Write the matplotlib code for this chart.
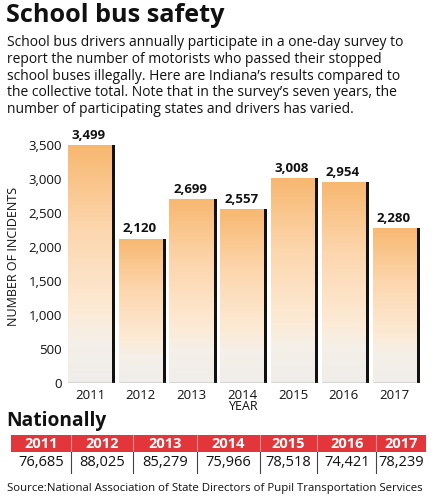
import matplotlib
matplotlib.use("Agg")
import matplotlib.pyplot as plt
import numpy as np
from matplotlib.colors import LinearSegmentedColormap
from matplotlib.patches import Rectangle

plt.rcParams['font.family'] = ['Open Sans', 'DejaVu Sans']

# ---- data ----
years = ["2011", "2012", "2013", "2014", "2015", "2016", "2017"]
indiana = [3499, 2120, 2699, 2557, 3008, 2954, 2280]
national = [76685, 88025, 85279, 75966, 78518, 74421, 78239]
yticks = [0, 500, 1000, 1500, 2000, 2500, 3000, 3500]

title = "School bus safety"
subtitle = ("School bus drivers annually participate in a one-day survey to\n"
            "report the number of motorists who passed their stopped\n"
            "school buses illegally. Here are Indiana\u2019s results compared to\n"
            "the collective total. Note that in the survey\u2019s seven years, the\n"
            "number of participating states and drivers has varied.")
source = "Source:National Association of State Directors of Pupil Transportation Services"

W, H = 433, 500
fig = plt.figure(figsize=(W / 100, H / 100), dpi=100)
fig.patch.set_facecolor("white")

def fx(px):
    return px / W

def fy(py):
    return 1 - py / H

# ---- headings ----
fig.text(fx(6), fy(3), title, fontsize=18.2, fontweight="bold", va="top", ha="left", color="#111111")
fig.text(fx(7), fy(35), subtitle, fontsize=10.0, va="top", ha="left", color="#111111", linespacing=1.16)

# ---- bar chart ----
ax = fig.add_axes([fx(66), fy(383), fx(422) - fx(66), fy(130) - fy(383)])
ax.set_xlim(-0.473, 6.54)
ax.set_ylim(0, 3720)
for s in ax.spines.values():
    s.set_visible(False)

cmap = LinearSegmentedColormap.from_list(
    "busgrad",
    [(0.0, (0.94, 0.93, 0.92)),
     (0.18, (0.96, 0.94, 0.91)),
     (0.30, (0.99, 0.92, 0.84)),
     (0.65, (0.99, 0.84, 0.68)),
     (1.0, (0.97, 0.72, 0.44))])
grad = np.linspace(0, 1, 256).reshape(-1, 1)

x = np.arange(len(years))
bw = 0.87
sw = 0.06
bars = ax.bar(x, indiana, width=bw, color="none", edgecolor="none")
for xi, v, b in zip(x, indiana, bars):
    im = ax.imshow(grad, cmap=cmap, origin="lower", aspect="auto",
                   extent=[xi - bw / 2, xi + bw / 2, 0, v], zorder=2)
    im.set_clip_path(b)
    ax.bar(xi + bw / 2 + sw / 2, v, width=sw, color="#111111", zorder=3)
    ax.hlines(0, xi - bw / 2, xi + bw / 2 + sw, color="#777777", lw=1, zorder=3)
    ax.text(xi - 0.02, v + 50, f"{v:,}", ha="center", va="bottom",
            fontsize=9.5, fontweight="bold", color="#111111")

ax.set_xlim(-0.473, 6.54)
ax.set_ylim(0, 3720)
ax.set_xticks(x)
ax.set_xticklabels(years, fontsize=9.5, color="#111111")
ax.set_yticks(yticks)
ax.set_yticklabels([f"{t:,}" for t in yticks], fontsize=9.5, color="#111111")
ax.tick_params(length=0, pad=3)
ax.tick_params(axis="x", pad=4)
ax.set_xlabel("YEAR", fontsize=9, labelpad=-1, color="#111111")
ax.set_ylabel("NUMBER OF INCIDENTS", fontsize=9, labelpad=6, color="#111111")

# ---- nationally table ----
fig.text(fx(6), fy(411), "Nationally", fontsize=13.8, fontweight="bold", va="top", ha="left", color="#111111")

edges = [11, 70.7, 133.3, 196.7, 259.7, 317.3, 376.3, 426]
tax = fig.add_axes([fx(edges[0]), fy(474), fx(edges[-1]) - fx(edges[0]), fy(435) - fy(474)])
tax.set_xlim(edges[0], edges[-1])
tax.set_ylim(474, 435)
tax.axis("off")
red = "#E2363A"
tax.add_patch(Rectangle((edges[0], 435), edges[-1] - edges[0], 17, color=red, lw=0))
for i, (yr, val) in enumerate(zip(years, national)):
    cx = (edges[i] + edges[i + 1]) / 2
    tax.text(cx, 443.5, yr, ha="center", va="center", fontsize=10.5,
             fontweight="bold", color="white")
    tax.text(cx, 462.5, f"{val:,}", ha="center", va="center", fontsize=10.5, color="#111111")
for e in edges[1:-1]:
    tax.plot([e, e], [435, 452], color="#F08A8C", lw=0.8)
    tax.plot([e, e], [452, 473], color="#444444", lw=0.8)

fig.text(fx(7), fy(488), source, fontsize=8.2, va="center", ha="left", color="#111111")

fig.savefig("out.png", dpi=100, facecolor="white")
